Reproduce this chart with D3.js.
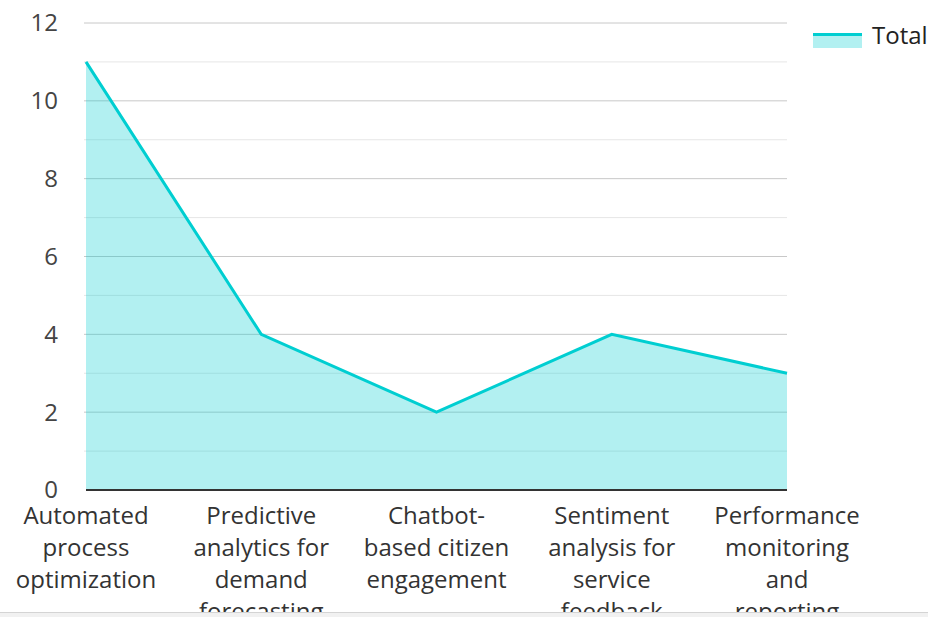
<!DOCTYPE html>
<html>
<head>
<meta charset="utf-8">
<script src="https://cdn.jsdelivr.net/npm/d3@7"></script>
<style>
  html, body { margin: 0; padding: 0; background: #fff; }
  #chart { width: 928px; height: 612px; overflow: hidden; border-bottom: 1px solid #d4d4d4; }
  #bar { width: 928px; height: 4px; background: #f1f1f1; }
  text { font-family: "Open Sans", "Noto Sans", sans-serif; }
</style>
</head>
<body>
<div id="chart"></div>
<div id="bar"></div>
<script>
const categories = [
  'Automated process optimization',
  'Predictive analytics for demand forecasting',
  'Chatbot-based citizen engagement',
  'Sentiment analysis for service feedback',
  'Performance monitoring and reporting'
]
const totals = [11, 4, 2, 4, 3]
const majorTicks = [0, 2, 4, 6, 8, 10, 12]
const minorTicks = [1, 3, 5, 7, 9, 11]
const seriesName = 'Total'

const width = 928, height = 640
const margin = {top: 23, right: 141, bottom: 150, left: 86}
const lineColor = '#00ced1'
const fontSize = 24

const svg = d3.select('#chart').append('svg')
    .attr('width', width)
    .attr('height', height)

const x = d3.scalePoint()
    .domain(categories)
    .range([margin.left, width - margin.right])

const y = d3.scaleLinear()
    .domain([0, 12])
    .range([height - margin.bottom, margin.top])

// gridlines
svg.append('g').selectAll('line.minor')
    .data(minorTicks)
    .join('line')
    .attr('x1', margin.left - 2).attr('x2', width - margin.right)
    .attr('y1', d => y(d)).attr('y2', d => y(d))
    .attr('stroke', '#e6e6e6').attr('stroke-width', 1)

svg.append('g').selectAll('line.major')
    .data(majorTicks.filter(d => d > 0))
    .join('line')
    .attr('x1', margin.left - 2).attr('x2', width - margin.right)
    .attr('y1', d => y(d)).attr('y2', d => y(d))
    .attr('stroke', '#c8c8c8').attr('stroke-width', 1)

// area + line
const pts = categories.map((c, i) => [c, totals[i]])

svg.append('path')
    .datum(pts)
    .attr('fill', lineColor)
    .attr('fill-opacity', 0.3)
    .attr('d', d3.area().x(d => x(d[0])).y0(y(0)).y1(d => y(d[1])))

svg.append('path')
    .datum(pts)
    .attr('fill', 'none')
    .attr('stroke', lineColor)
    .attr('stroke-width', 3)
    .attr('d', d3.line().x(d => x(d[0])).y(d => y(d[1])))

// x axis line
svg.append('line')
    .attr('x1', margin.left).attr('x2', width - margin.right)
    .attr('y1', y(0)).attr('y2', y(0))
    .attr('stroke', '#333').attr('stroke-width', 2)

// y tick labels
svg.append('g').selectAll('text')
    .data(majorTicks)
    .join('text')
    .attr('x', 58)
    .attr('y', d => y(d))
    .attr('dy', '0.35em')
    .attr('text-anchor', 'end')
    .attr('font-size', fontSize)
    .attr('fill', '#444')
    .text(d => d)

// wrapped x labels (break at spaces and after hyphens)
function wrapWords(str, maxW, measure) {
  const tokens = str.match(/[^ -]+-?/g)
  const lines = []
  let cur = tokens[0]
  for (let i = 1; i < tokens.length; i++) {
    const sep = cur.endsWith('-') ? '' : ' '
    const trial = cur + sep + tokens[i]
    if (measure(trial) > maxW) { lines.push(cur); cur = tokens[i] } else cur = trial
  }
  lines.push(cur)
  return lines
}

const measurer = svg.append('text').attr('font-size', fontSize).attr('visibility', 'hidden')
const measure = s => { measurer.text(s); return measurer.node().getComputedTextLength() }

const xLabels = svg.append('g')
categories.forEach(c => {
  const lines = wrapWords(c, 152, measure)
  const t = xLabels.append('text')
      .attr('text-anchor', 'middle')
      .attr('font-size', fontSize)
      .attr('fill', '#333')
  lines.forEach((l, i) => {
    t.append('tspan')
        .attr('x', x(c))
        .attr('y', y(0) + 34 + i * 32)
        .text(l)
  })
})
measurer.remove()

// legend
const lg = svg.append('g').attr('transform', 'translate(813, 33)')
lg.append('rect')
    .attr('width', 49).attr('height', 15)
    .attr('fill', lineColor).attr('fill-opacity', 0.3)
lg.append('line')
    .attr('x1', 0).attr('x2', 49).attr('y1', 1.5).attr('y2', 1.5)
    .attr('stroke', lineColor).attr('stroke-width', 3)
lg.append('text')
    .attr('x', 59).attr('y', 11)
    .attr('font-size', fontSize)
    .attr('fill', '#222')
    .text(seriesName)
</script>
</body>
</html>
